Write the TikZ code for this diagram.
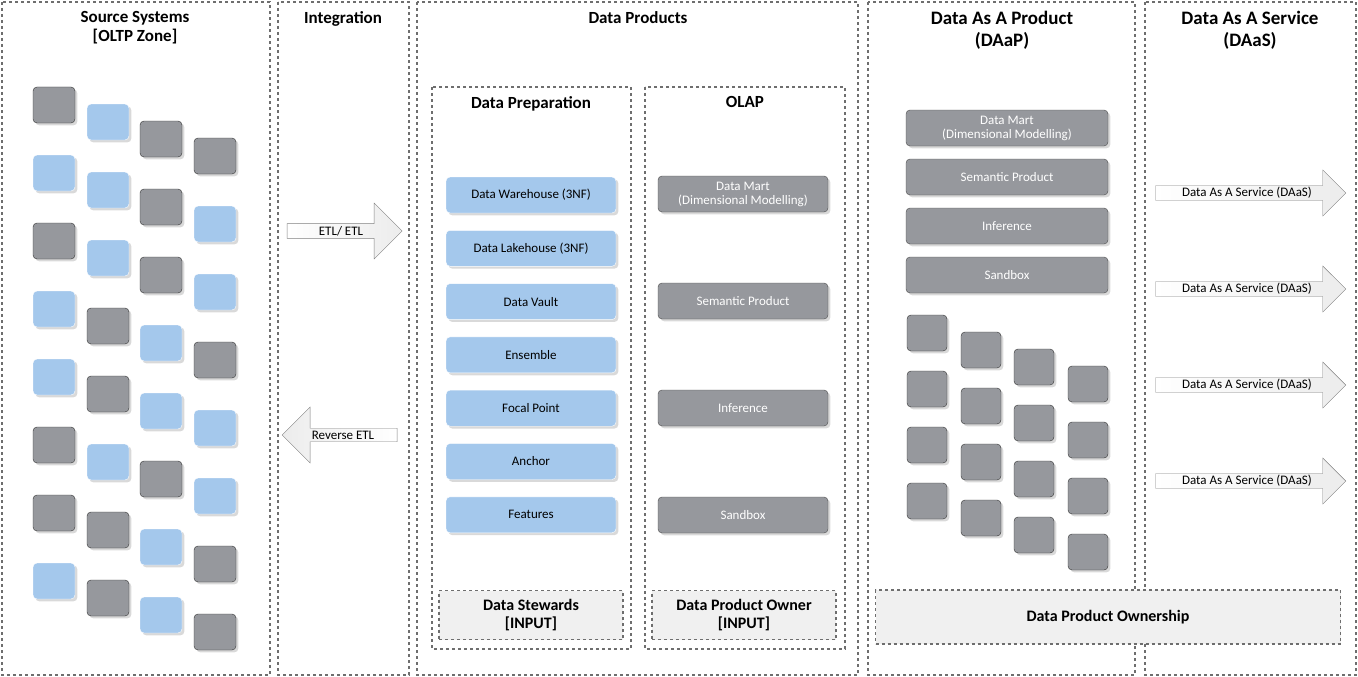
\documentclass[tikz,border=0pt]{standalone}
\usepackage{fontspec}
\setmainfont{Carlito}
\usetikzlibrary{shapes.arrows,shadows}
\definecolor{tileblue}{RGB}{164,200,236}
\definecolor{tilegray}{RGB}{150,152,157}
\definecolor{framegray}{RGB}{110,110,110}
\tikzset{
  zone/.style={draw=framegray,dashed,line width=1.6pt},
  title/.style={font=\fontsize{17}{19}\selectfont\bfseries,align=center,anchor=north},
  bigtitle/.style={title,font=\fontsize{19}{22}\selectfont\bfseries},
  bluebox/.style={draw=white,fill=tileblue,rounded corners=4pt,minimum width=170pt,minimum height=36pt,drop shadow={opacity=0.3},font=\fontsize{13}{14}\selectfont,align=center},
  graybox/.style={draw=gray!60!black,fill=tilegray,text=white,rounded corners=4pt,minimum height=36pt,drop shadow={opacity=0.3},font=\fontsize{13}{14}\selectfont,align=center},
  tile/.style={rounded corners=4pt,minimum width=42pt,minimum height=36pt,drop shadow={opacity=0.3}},
  btile/.style={tile,draw=white,fill=tileblue},
  gtile/.style={tile,draw=gray!40!black,fill=tilegray},
  flow/.style={single arrow,draw=gray,fill=white,left color=white,right color=gray!15,minimum height=115pt,minimum width=56pt,single arrow head extend=14pt,inner sep=0pt,font=\fontsize{13}{14}\selectfont},
  owner/.style={zone,fill=gray!12,font=\fontsize{16}{18}\selectfont\bfseries,align=center}
}
\begin{document}
\begin{tikzpicture}[x=1pt,y=-1pt]
\useasboundingbox (0,0) rectangle (1358,677);

% zones
\draw[zone] (2,2) rectangle (270,675);
\draw[zone] (278,2) rectangle (409,675);
\draw[zone] (417,2) rectangle (858,675);
\draw[zone] (868,2) rectangle (1135,675);
\draw[zone] (1145,2) rectangle (1356,675);
\draw[zone] (432,87) rectangle (631,649);
\draw[zone] (645,87) rectangle (845,649);

\node[title] (srcT) at (135,8) {Source Systems\\{}[OLTP Zone]};
\node[title] (intT) at (343,8) {Integration};
\node[title] (dpT) at (638,8) {Data Products};
\node[bigtitle] (daapT) at (1002,8) {Data As A Product\\(DAaP)};
\node[bigtitle] (daasT) at (1250,8) {Data As A Service\\(DAaS)};
\node[title] (prepT) at (531,93) {Data Preparation};
\node[title] (olapT) at (745,93) {OLAP};

% source tiles
\foreach \c/\cols [count=\i from 0] in {54/{g,b,g,b,b,g,g,b},108/{b,b,b,g,g,b,g,g},161/{g,g,g,b,b,g,b,b},215/{g,b,b,g,b,b,g,g}}
  \foreach \k [count=\j from 0] in \cols
    \node[\k tile] (s\i\j) at (\c,105+17*\i+68*\j) {};

% integration arrows
\node[flow] (etl) at (341,231) {ETL/ ETL};
\node[flow,shape border rotate=180,left color=gray!15,right color=white] (retl) at (343,435) {Reverse ETL};

% data preparation
\foreach \t [count=\j from 0] in {Data Warehouse (3NF),Data Lakehouse (3NF),Data Vault,Ensemble,Focal Point,Anchor,Features}
  \node[bluebox] (p\j) at (531,195+53.3*\j) {\t};

% OLAP
\node[graybox,minimum width=170pt] (o0) at (743,194) {Data Mart\\(Dimensional Modelling)};
\node[graybox,minimum width=170pt] (o1) at (743,301) {Semantic Product};
\node[graybox,minimum width=170pt] (o2) at (743,408) {Inference};
\node[graybox,minimum width=170pt] (o3) at (743,515) {Sandbox};

\node[owner,minimum width=184pt,minimum height=49pt] (stew) at (531,615) {Data Stewards\\{}[INPUT]};
\node[owner,minimum width=184pt,minimum height=49pt] (pown) at (744,615) {Data Product Owner\\{}[INPUT]};

% DAaP
\node[graybox,minimum width=202pt] (d0) at (1007,128) {Data Mart\\(Dimensional Modelling)};
\node[graybox,minimum width=202pt] (d1) at (1007,177) {Semantic Product};
\node[graybox,minimum width=202pt] (d2) at (1007,226) {Inference};
\node[graybox,minimum width=202pt] (d3) at (1007,275) {Sandbox};
\foreach \c [count=\i from 0] in {927,981,1034,1088}
  \foreach \j in {0,...,3}
    \node[gtile,minimum width=40pt] (t\i\j) at (\c,333+17*\i+56*\j) {};

\node[owner,minimum width=465pt,minimum height=54pt] (own) at (1108,617) {Data Product Ownership};

% DAaS arrows
\foreach \y [count=\j] in {193,289,385,481}
  \node[flow,minimum height=190pt,minimum width=46pt,single arrow head extend=12pt] (s\j) at (1247,\y) {Data As A Service (DAaS)};
\end{tikzpicture}
\end{document}
